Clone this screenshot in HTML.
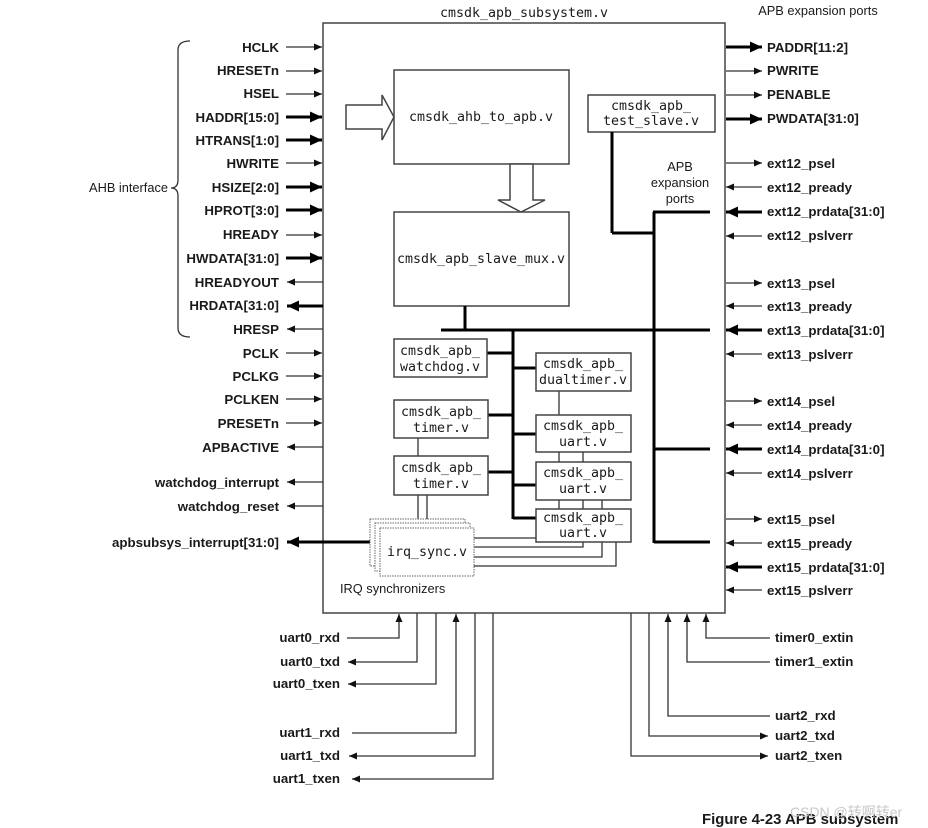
<!DOCTYPE html>
<html><head><meta charset="utf-8"><style>
html,body{margin:0;padding:0;background:#fff;}
svg{display:block;}
.l{font-family:"Liberation Sans",sans-serif;font-weight:bold;font-size:13.3px;fill:#1a1a1a;}
.n{font-family:"Liberation Sans",sans-serif;font-size:12.8px;fill:#1a1a1a;}
.m{font-family:"DejaVu Sans Mono","Liberation Mono",monospace;font-size:13.3px;fill:#1a1a1a;}
.t{stroke:#333;stroke-width:1.3;fill:none;}
.T{stroke:#000;stroke-width:3;fill:none;}
.b{stroke:#444;stroke-width:1.5;fill:#fff;}
</style></head><body>
<svg width="928" height="828" viewBox="0 0 928 828" xmlns="http://www.w3.org/2000/svg">
<defs>
<marker id="a" markerWidth="8" markerHeight="7" refX="8" refY="3.5" orient="auto" markerUnits="userSpaceOnUse"><path d="M0,0 L8,3.5 L0,7z" fill="#111"/></marker>
<marker id="A" markerWidth="12" markerHeight="11" refX="12" refY="5.5" orient="auto" markerUnits="userSpaceOnUse"><path d="M0,0 L12,5.5 L0,11z" fill="#000"/></marker>
</defs>

<rect x="323" y="23" width="402" height="590" class="b"/>
<text x="524" y="17" class="m" text-anchor="middle">cmsdk_apb_subsystem.v</text>
<text x="818" y="15" class="n" text-anchor="middle">APB expansion ports</text>

<path d="M190,41 Q178,41 178,50 L178,180 Q178,188 171,188 Q178,188 178,196 L178,328 Q178,337 190,337" class="t"/>
<text x="168" y="192" class="n" text-anchor="end">AHB interface</text>

<g class="l" text-anchor="end">
<text x="279" y="52">HCLK</text>
<text x="279" y="75">HRESETn</text>
<text x="279" y="98">HSEL</text>
<text x="279" y="122">HADDR[15:0]</text>
<text x="279" y="145">HTRANS[1:0]</text>
<text x="279" y="168">HWRITE</text>
<text x="279" y="192">HSIZE[2:0]</text>
<text x="279" y="215">HPROT[3:0]</text>
<text x="279" y="239">HREADY</text>
<text x="279" y="263">HWDATA[31:0]</text>
<text x="279" y="287">HREADYOUT</text>
<text x="279" y="310">HRDATA[31:0]</text>
<text x="279" y="334">HRESP</text>
<text x="279" y="358">PCLK</text>
<text x="279" y="381">PCLKG</text>
<text x="279" y="404">PCLKEN</text>
<text x="279" y="428">PRESETn</text>
<text x="279" y="452">APBACTIVE</text>
<text x="279" y="487">watchdog_interrupt</text>
<text x="279" y="511">watchdog_reset</text>
<text x="279" y="547">apbsubsys_interrupt[31:0]</text>
</g>
<g class="t" marker-end="url(#a)">
<line x1="286" y1="47" x2="322" y2="47"/>
<line x1="286" y1="71" x2="322" y2="71"/>
<line x1="286" y1="94" x2="322" y2="94"/>
<line x1="286" y1="163" x2="322" y2="163"/>
<line x1="286" y1="235" x2="322" y2="235"/>
<line x1="323" y1="282" x2="287" y2="282"/>
<line x1="323" y1="329" x2="287" y2="329"/>
<line x1="286" y1="353" x2="322" y2="353"/>
<line x1="286" y1="376" x2="322" y2="376"/>
<line x1="286" y1="399" x2="322" y2="399"/>
<line x1="286" y1="423" x2="322" y2="423"/>
<line x1="323" y1="447" x2="287" y2="447"/>
<line x1="323" y1="482" x2="287" y2="482"/>
<line x1="323" y1="506" x2="287" y2="506"/>
</g>
<g class="T" stroke-width="2.2" marker-end="url(#A)">
<line x1="286" y1="117" x2="322" y2="117"/>
<line x1="286" y1="140" x2="322" y2="140"/>
<line x1="286" y1="187" x2="322" y2="187"/>
<line x1="286" y1="210" x2="322" y2="210"/>
<line x1="286" y1="258" x2="322" y2="258"/>
<line x1="323" y1="306" x2="287" y2="306"/>
<line x1="372" y1="542" x2="287" y2="542"/>
</g>

<g class="l">
<text x="767" y="52">PADDR[11:2]</text>
<text x="767" y="75">PWRITE</text>
<text x="767" y="99">PENABLE</text>
<text x="767" y="123">PWDATA[31:0]</text>
<text x="767" y="168">ext12_psel</text>
<text x="767" y="192">ext12_pready</text>
<text x="767" y="216">ext12_prdata[31:0]</text>
<text x="767" y="240">ext12_pslverr</text>
<text x="767" y="288">ext13_psel</text>
<text x="767" y="311">ext13_pready</text>
<text x="767" y="335">ext13_prdata[31:0]</text>
<text x="767" y="359">ext13_pslverr</text>
<text x="767" y="406">ext14_psel</text>
<text x="767" y="430">ext14_pready</text>
<text x="767" y="454">ext14_prdata[31:0]</text>
<text x="767" y="478">ext14_pslverr</text>
<text x="767" y="524">ext15_psel</text>
<text x="767" y="548">ext15_pready</text>
<text x="767" y="572">ext15_prdata[31:0]</text>
<text x="767" y="595">ext15_pslverr</text>
</g>
<g class="t" marker-end="url(#a)">
<line x1="726" y1="71" x2="762" y2="71"/>
<line x1="726" y1="95" x2="762" y2="95"/>
<line x1="726" y1="163" x2="762" y2="163"/>
<line x1="762" y1="187" x2="726" y2="187"/>
<line x1="762" y1="236" x2="726" y2="236"/>
<line x1="726" y1="283" x2="762" y2="283"/>
<line x1="762" y1="306" x2="726" y2="306"/>
<line x1="762" y1="354" x2="726" y2="354"/>
<line x1="726" y1="401" x2="762" y2="401"/>
<line x1="762" y1="425" x2="726" y2="425"/>
<line x1="762" y1="473" x2="726" y2="473"/>
<line x1="726" y1="519" x2="762" y2="519"/>
<line x1="762" y1="543" x2="726" y2="543"/>
<line x1="762" y1="590" x2="726" y2="590"/>
</g>
<g class="T" stroke-width="2.2" marker-end="url(#A)">
<line x1="726" y1="47" x2="762" y2="47"/>
<line x1="726" y1="119" x2="762" y2="119"/>
<line x1="762" y1="212" x2="726" y2="212"/>
<line x1="762" y1="330" x2="726" y2="330"/>
<line x1="762" y1="449" x2="726" y2="449"/>
<line x1="762" y1="567" x2="726" y2="567"/>
</g>

<rect x="394" y="70" width="175" height="94" class="b"/>
<text x="481" y="121" class="m" text-anchor="middle">cmsdk_ahb_to_apb.v</text>
<path d="M346,105 L382,105 L382,95 L394,117 L382,140 L382,129 L346,129 Z" class="b" stroke-width="1.2"/>
<path d="M510,164 L533,164 L533,200 L545,200 L521,212 L498,200 L510,200 Z" class="b" stroke-width="1.2"/>
<rect x="394" y="212" width="175" height="94" class="b"/>
<text x="481" y="263" class="m" text-anchor="middle">cmsdk_apb_slave_mux.v</text>
<rect x="588" y="95" width="127" height="37" class="b"/>
<text x="651" y="110" class="m" text-anchor="middle">cmsdk_apb_</text>
<text x="651" y="125" class="m" text-anchor="middle">test_slave.v</text>
<text x="680" y="171" class="n" text-anchor="middle">APB</text>
<text x="680" y="187" class="n" text-anchor="middle">expansion</text>
<text x="680" y="203" class="n" text-anchor="middle">ports</text>

<g class="T">
<line x1="465" y1="306" x2="465" y2="330"/>
<line x1="441" y1="330" x2="654" y2="330"/>
<line x1="612" y1="132" x2="612" y2="233"/>
<line x1="612" y1="233" x2="654" y2="233"/>
<line x1="654" y1="212" x2="654" y2="543"/>
<line x1="653" y1="212" x2="710" y2="212"/>
<line x1="654" y1="330" x2="710" y2="330"/>
<line x1="654" y1="449" x2="710" y2="449"/>
<line x1="654" y1="542" x2="710" y2="542"/>
<line x1="513" y1="330" x2="513" y2="519"/>
<line x1="487" y1="353" x2="513" y2="353"/>
<line x1="513" y1="368" x2="536" y2="368"/>
<line x1="488" y1="415" x2="513" y2="415"/>
<line x1="513" y1="434" x2="536" y2="434"/>
<line x1="488" y1="472" x2="513" y2="472"/>
<line x1="513" y1="485" x2="536" y2="485"/>
<line x1="513" y1="518" x2="536" y2="518"/>
</g>

<g class="t">
<line x1="559" y1="391" x2="559" y2="415"/>
<line x1="418" y1="438" x2="418" y2="456"/>
<line x1="559" y1="452" x2="559" y2="462"/>
<line x1="583" y1="452" x2="583" y2="462"/>
<line x1="559" y1="500" x2="559" y2="509"/>
<line x1="583" y1="500" x2="583" y2="509"/>
<line x1="602" y1="500" x2="602" y2="509"/>
<line x1="418" y1="495" x2="418" y2="520"/>
<line x1="427" y1="495" x2="427" y2="528"/>
<polyline points="474,538 536,538"/>
<polyline points="474,547 583,547 583,542"/>
<polyline points="474,557 602,557 602,542"/>
<polyline points="474,566 616,566 616,542"/>
</g>

<g class="b">
<rect x="394" y="339" width="93" height="38"/>
<rect x="536" y="353" width="95" height="38"/>
<rect x="394" y="400" width="94" height="38"/>
<rect x="394" y="456" width="94" height="39"/>
<rect x="536" y="415" width="95" height="37"/>
<rect x="536" y="462" width="95" height="38"/>
<rect x="536" y="509" width="95" height="33"/>
</g>
<g class="m" text-anchor="middle">
<text x="440" y="355">cmsdk_apb_</text><text x="440" y="371">watchdog.v</text>
<text x="583" y="368">cmsdk_apb_</text><text x="583" y="384">dualtimer.v</text>
<text x="441" y="416">cmsdk_apb_</text><text x="441" y="432">timer.v</text>
<text x="441" y="472">cmsdk_apb_</text><text x="441" y="488">timer.v</text>
<text x="583" y="430">cmsdk_apb_</text><text x="583" y="446">uart.v</text>
<text x="583" y="477">cmsdk_apb_</text><text x="583" y="493">uart.v</text>
<text x="583" y="522">cmsdk_apb_</text><text x="583" y="537">uart.v</text>
</g>

<rect x="370" y="519" width="95" height="47" fill="#fff" stroke="#666" stroke-dasharray="1.5,1"/>
<rect x="375" y="523" width="95" height="48" fill="#fff" stroke="#666" stroke-dasharray="1.5,1"/>
<rect x="380" y="528" width="94" height="48" fill="#fff" stroke="#666" stroke-dasharray="1.5,1"/>
<text x="427" y="556" class="m" text-anchor="middle">irq_sync.v</text>
<text x="340" y="593" class="n">IRQ synchronizers</text>

<g class="l" text-anchor="end">
<text x="340" y="642">uart0_rxd</text>
<text x="340" y="666">uart0_txd</text>
<text x="340" y="688">uart0_txen</text>
<text x="340" y="737">uart1_rxd</text>
<text x="340" y="760">uart1_txd</text>
<text x="340" y="783">uart1_txen</text>
</g>
<g class="t" marker-end="url(#a)">
<polyline points="347,638 399,638 399,614"/>
<polyline points="417,613 417,662 348,662"/>
<polyline points="436,613 436,684 348,684"/>
<polyline points="352,733 456,733 456,614"/>
<polyline points="475,613 475,756 349,756"/>
<polyline points="493,613 493,779 352,779"/>
</g>
<g class="l">
<text x="775" y="642">timer0_extin</text>
<text x="775" y="666">timer1_extin</text>
<text x="775" y="720">uart2_rxd</text>
<text x="775" y="740">uart2_txd</text>
<text x="775" y="760">uart2_txen</text>
</g>
<g class="t" marker-end="url(#a)">
<polyline points="770,638 706,638 706,614"/>
<polyline points="770,662 687,662 687,614"/>
<polyline points="770,716 668,716 668,614"/>
<polyline points="649,613 649,736 768,736"/>
<polyline points="631,613 631,756 768,756"/>
</g>

<text x="702" y="824" class="l" style="font-size:14.9px">Figure 4-23 APB subsystem</text>
<text x="790" y="817" class="n" style="fill:#c8c8c8;font-size:14px">CSDN @转啊转er</text>
</svg>
</body></html>
